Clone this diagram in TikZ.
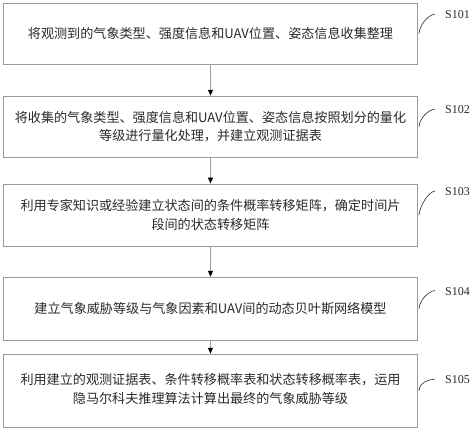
\documentclass[tikz,border=0pt]{standalone}
\usepackage{fontspec}
\newfontfamily\cjk{Noto Sans CJK SC}
\newfontfamily\lblfont{Liberation Serif}
\usetikzlibrary{arrows.meta,calc}
\definecolor{boxline}{HTML}{9A9A9A}
\definecolor{txt}{HTML}{2A2A2A}
\tikzset{
  stepbox/.style={draw=boxline, line width=0.9pt, minimum width=414pt, inner sep=0pt,
    align=center, text=txt, font=\cjk\fontsize{13.1}{18.5}\selectfont},
  flowarrow/.style={draw=gray!75, line width=0.8pt, -{Triangle[length=6pt,width=5pt,color=black]}},
  steplabel/.style={anchor=west, inner sep=0pt, text=txt, font=\lblfont\fontsize{12}{14}\selectfont},
  leadline/.style={draw=txt, line width=0.6pt}
}
\begin{document}
\begin{tikzpicture}[x=1pt,y=-1pt]
\useasboundingbox (0,0) rectangle (474,431);
\node[stepbox, minimum height=61pt] (b1) at (210.5,33.5) {将观测到的气象类型、强度信息和UAV位置、姿态信息收集整理};
\node[stepbox, minimum height=61pt] (b2) at (210.5,126.7) {将收集的气象类型、强度信息和UAV位置、姿态信息按照划分的量化\\等级进行量化处理，并建立观测证据表};
\node[stepbox, minimum height=62pt] (b3) at (210.5,215) {利用专家知识或经验建立状态间的条件概率转移矩阵，确定时间片\\段间的状态转移矩阵};
\node[stepbox, minimum height=63pt] (b4) at (210.5,308.7) {建立气象威胁等级与气象因素和UAV间的动态贝叶斯网络模型};
\node[stepbox, minimum height=73pt] (b5) at (210.5,390.7) {\raisebox{-8pt}{\begin{tabular}{@{}c@{}}利用建立的观测证据表、条件转移概率表和状态转移概率表，运用\\[0.4pt]隐马尔科夫推理算法计算出最终的气象威胁等级\end{tabular}}};
\draw[flowarrow] (b1) -- (b2);
\draw[flowarrow] (b2) -- (b3);
\draw[flowarrow] (b3) -- (b4);
\draw[flowarrow] (b4) -- (b5);
\node[steplabel] (l1) at (445,15) {S101};
\node[steplabel] (l2) at (445,110) {S102};
\node[steplabel] (l3) at (445,192) {S103};
\node[steplabel] (l4) at (445,291.5) {S104};
\node[steplabel] (l5) at (445,380) {S105};
\foreach \i in {1,...,5}{
  \draw[leadline] ($(b\i.east)+(1,0)$) .. controls +(1,-9) and +(-7,1) .. ($(l\i.west)+(-10,-1)$);
}
\end{tikzpicture}
\end{document}
